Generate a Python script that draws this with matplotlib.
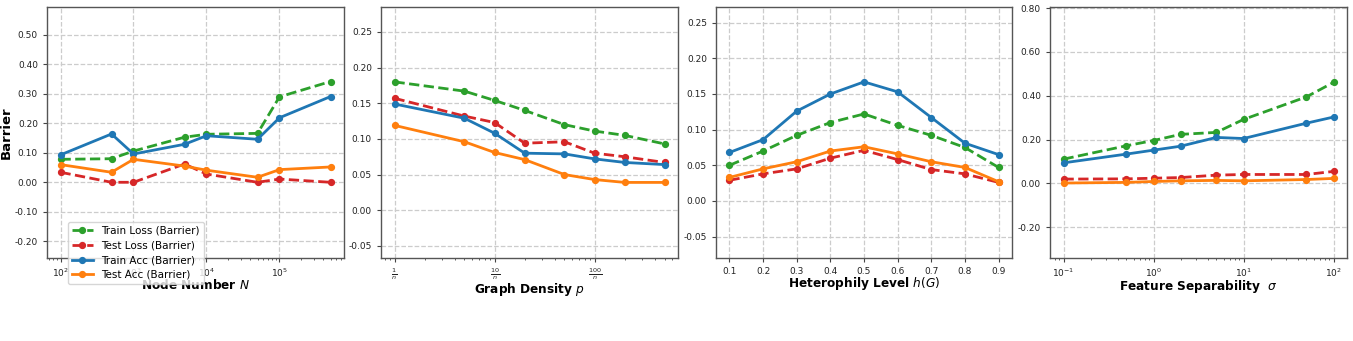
import matplotlib
matplotlib.use("Agg")
import matplotlib.pyplot as plt
from matplotlib.ticker import FormatStrFormatter, FixedLocator, FixedFormatter

# ---------------- data ----------------
series_names = ["Train Loss (Barrier)", "Test Loss (Barrier)", "Train Acc (Barrier)", "Test Acc (Barrier)"]
series_colors = ["#2ca02c", "#d62728", "#1f77b4", "#ff7f0e"]
series_styles = ["--", "--", "-", "-"]

# Panel 1: Node number N
node_n = [100, 500, 1000, 5000, 10000, 50000, 100000, 500000]
node_train_loss = [0.078, 0.080, 0.106, 0.153, 0.163, 0.166, 0.290, 0.342]
node_test_loss = [0.034, 0.000, 0.000, 0.062, 0.028, 0.000, 0.011, 0.000]
node_train_acc = [0.093, 0.164, 0.096, 0.129, 0.158, 0.146, 0.219, 0.291]
node_test_acc = [0.060, 0.034, 0.078, 0.055, 0.041, 0.017, 0.043, 0.052]

# Panel 2: Graph density p (in units of 1/n)
dens_p = [1, 5, 10, 20, 50, 100, 200, 500]
dens_tick_vals = [1, 10, 100]
dens_tick_labels = [r"$\frac{1}{n}$", r"$\frac{10}{n}$", r"$\frac{100}{n}$"]
dens_train_loss = [0.180, 0.167, 0.154, 0.140, 0.120, 0.111, 0.105, 0.093]
dens_test_loss = [0.157, 0.132, 0.123, 0.094, 0.096, 0.080, 0.075, 0.067]
dens_train_acc = [0.149, 0.129, 0.108, 0.080, 0.079, 0.072, 0.067, 0.064]
dens_test_acc = [0.119, 0.096, 0.081, 0.071, 0.050, 0.043, 0.039, 0.039]

# Panel 3: Heterophily level h(G)
het_h = [0.1, 0.2, 0.3, 0.4, 0.5, 0.6, 0.7, 0.8, 0.9]
het_train_loss = [0.050, 0.070, 0.092, 0.110, 0.122, 0.106, 0.092, 0.075, 0.047]
het_test_loss = [0.029, 0.038, 0.045, 0.060, 0.071, 0.058, 0.044, 0.038, 0.026]
het_train_acc = [0.068, 0.086, 0.126, 0.150, 0.167, 0.153, 0.117, 0.081, 0.065]
het_test_acc = [0.033, 0.045, 0.055, 0.070, 0.076, 0.066, 0.055, 0.047, 0.027]

# Panel 4: Feature separability sigma
sep_sigma = [0.1, 0.5, 1, 2, 5, 10, 50, 100]
sep_train_loss = [0.111, 0.172, 0.196, 0.224, 0.233, 0.292, 0.395, 0.461]
sep_test_loss = [0.020, 0.021, 0.024, 0.027, 0.038, 0.041, 0.041, 0.055]
sep_train_acc = [0.094, 0.134, 0.152, 0.170, 0.210, 0.205, 0.275, 0.303]
sep_test_acc = [0.002, 0.005, 0.009, 0.012, 0.014, 0.012, 0.018, 0.023]

panels = [
    dict(x=node_n, ys=[node_train_loss, node_test_loss, node_train_acc, node_test_acc],
         xlabel=r"Node Number $N$", log=True, ylim=(-0.257, 0.595),
         yticks=[-0.2, -0.1, 0.0, 0.1, 0.2, 0.3, 0.4, 0.5]),
    dict(x=dens_p, ys=[dens_train_loss, dens_test_loss, dens_train_acc, dens_test_acc],
         xlabel=r"Graph Density $p$", log=True, ylim=(-0.067, 0.285),
         yticks=[-0.05, 0.0, 0.05, 0.1, 0.15, 0.2, 0.25]),
    dict(x=het_h, ys=[het_train_loss, het_test_loss, het_train_acc, het_test_acc],
         xlabel=r"Heterophily Level $h(G)$", log=False, ylim=(-0.08, 0.272),
         yticks=[-0.05, 0.0, 0.05, 0.1, 0.15, 0.2, 0.25]),
    dict(x=sep_sigma, ys=[sep_train_loss, sep_test_loss, sep_train_acc, sep_test_acc],
         xlabel=r"Feature Separability  $\sigma$", log=True, ylim=(-0.34, 0.805),
         yticks=[-0.2, 0.0, 0.2, 0.4, 0.6, 0.8]),
]

W, H = 1353, 341
fig = plt.figure(figsize=(W / 100, H / 100), dpi=100)
lefts = [47, 381, 716, 1050]
widths = [297, 297, 296, 297]
top_px, bot_px = 7, 258

axes = []
for i, p in enumerate(panels):
    ax = fig.add_axes([lefts[i] / W, 1 - bot_px / H, widths[i] / W, (bot_px - top_px) / H])
    axes.append(ax)
    for name, color, ls, y in zip(series_names, series_colors, series_styles, p["ys"]):
        ax.plot(p["x"], y, ls, color=color, marker="o", markersize=4.2, linewidth=2.0, label=name)
    if p["log"]:
        ax.set_xscale("log")
    ax.set_ylim(*p["ylim"])
    ax.set_yticks(p["yticks"])
    ax.yaxis.set_major_formatter(FormatStrFormatter("%.2f"))
    if i == 1:
        ax.xaxis.set_major_locator(FixedLocator(dens_tick_vals))
        ax.xaxis.set_major_formatter(FixedFormatter(dens_tick_labels))
    if i == 2:
        ax.set_xticks(het_h)
        ax.xaxis.set_major_formatter(FormatStrFormatter("%.1f"))
    ax.grid(True, which="major", linestyle="--", color="#cccccc", linewidth=0.9)
    ax.tick_params(axis="both", which="major", labelsize=6.5, length=3, color="#444444",
                   labelcolor="#222222")
    ax.tick_params(axis="both", which="minor", length=1.5, color="#444444")
    for s in ax.spines.values():
        s.set_color("#555555")
        s.set_linewidth(1.0)
    ax.set_xlabel(p["xlabel"], fontsize=8.7, fontweight="bold", labelpad=-1)

axes[1].tick_params(axis="x", which="major", labelsize=6.5)
axes[0].set_ylabel("Barrier", fontsize=9.5, fontweight="bold")
axes[0].yaxis.set_label_coords(-0.115, 0.5)
axes[0].legend(loc="lower left", bbox_to_anchor=(0.07, -0.104), borderaxespad=0,
               fontsize=7.5, handlelength=2.0, labelspacing=0.45, borderpad=0.4)

fig.savefig("out.png", dpi=100)
